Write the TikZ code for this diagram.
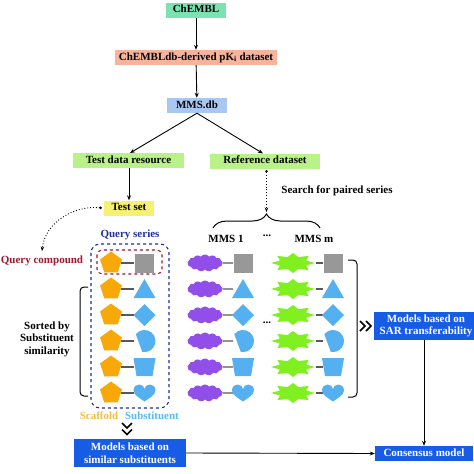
\documentclass[tikz,border=0pt]{standalone}
\usepackage{fontspec}
\setmainfont{Liberation Serif}
\usetikzlibrary{arrows.meta,shapes.geometric,shapes.symbols,decorations.pathreplacing}
\definecolor{cmint}{RGB}{125,226,178}
\definecolor{csalmon}{RGB}{246,180,156}
\definecolor{clblue}{RGB}{168,200,242}
\definecolor{clgreen}{RGB}{184,242,136}
\definecolor{cyellow}{RGB}{248,240,112}
\definecolor{cbbox}{RGB}{22,92,228}
\definecolor{corange}{RGB}{248,168,8}
\definecolor{csub}{RGB}{84,176,240}
\definecolor{cgray}{RGB}{152,152,152}
\definecolor{cpurple}{RGB}{146,78,232}
\definecolor{cstar}{RGB}{128,240,32}
\definecolor{cdred}{RGB}{160,24,48}
\definecolor{cnavy}{RGB}{32,48,150}
\definecolor{cscaf}{RGB}{240,192,64}
\definecolor{csubt}{RGB}{90,186,240}
\tikzset{
  lbl/.style={font=\bfseries\fontsize{11}{12.5}\selectfont, inner sep=0pt},
  flowbox/.style={lbl, minimum height=15pt, text height=8pt, text depth=2.5pt},
  bluebox/.style={lbl, fill=cbbox, text=white, align=center, minimum height=28pt},
  arr/.style={-{Stealth[length=5pt,width=4pt]}, line width=0.9pt},
  scaf/.style={regular polygon, regular polygon sides=5, minimum size=23pt, inner sep=0pt, fill=corange},
  cloudn/.style={cloud, cloud puffs=13, cloud puff arc=110, aspect=2.2, minimum width=35pt, minimum height=17pt, inner sep=0pt, fill=cpurple},
  starn/.style={star, star points=8, star point ratio=1.55, minimum size=20pt, inner sep=0pt, fill=cstar, xscale=2.2, transform shape},
  link/.style={draw=black!65, line width=1.1pt},
  brk/.style={line width=1pt, rounded corners=4pt},
}
\newcommand{\subshape}[3]{%
  \begin{scope}[shift={(#1,#2)}]
  \ifcase#3\relax
    \fill[cgray] (-9.5,-9.5) rectangle (9.5,9.5);
  \or
    \fill[csub] (-11,9) -- (11,9) -- (0,-10) -- cycle;
  \or
    \fill[csub] (0,-11) -- (11,0) -- (0,11) -- (-11,0) -- cycle;
  \or
    \fill[csub] (218:11) arc[start angle=218, end angle=462, radius=11] -- cycle;
  \or
    \fill[csub] (-11,-9) -- (11,-9) -- (8,9) -- (-8,9) -- cycle;
  \or
    \fill[csub] (0,8.5) .. controls (-4,5.5) and (-11,2) .. (-11,-2.5) .. controls (-11,-6.5) and (-8,-8.5) .. (-5.5,-8.5) .. controls (-2.5,-8.5) and (0,-6.5) .. (0,-4) .. controls (0,-6.5) and (2.5,-8.5) .. (5.5,-8.5) .. controls (8,-8.5) and (11,-6.5) .. (11,-2.5) .. controls (11,2) and (4,5.5) .. (0,8.5) -- cycle;
  \fi
  \end{scope}}
\begin{document}
\begin{tikzpicture}[x=1pt,y=-1pt]
\useasboundingbox[fill=white] (0,0) rectangle (474,474);

% top flow
\node[flowbox, fill=cmint, minimum width=60pt] (chembl) at (196,10) {ChEMBL};
\node[flowbox, fill=csalmon, minimum width=162pt] (pki) at (196,57.5) {ChEMBLdb-derived pK\textsubscript{i} dataset};
\node[flowbox, fill=clblue, minimum width=60pt] (mms) at (197,105.5) {MMS.db};
\node[flowbox, fill=clgreen, minimum width=111pt] (tdr) at (128.5,160.5) {Test data resource};
\node[flowbox, fill=clgreen, minimum width=110pt] (ref) at (265,161) {Reference dataset};
\node[flowbox, fill=cyellow, minimum width=50pt] (tset) at (129,208) {Test set};

\draw[arr] (chembl) -- (pki);
\draw[arr] (pki) -- (mms);
\coordinate (tdrin) at (130,153);
\coordinate (refin) at (263,153.5);
\draw[arr] (mms.south) -- (tdrin);
\draw[arr] (mms.south) -- (refin);
\draw[arr] (tdr.south -| tset.north) -- (tset.north);

% query compound
\node[lbl, text=cdred] (qc) at (42,261) {Query compound};
\coordinate (qcend) at (42,251);
\draw[line width=0.9pt, dotted, {Circle[length=2.5pt]}-{Stealth[length=4.5pt,width=3.5pt]}]
  (tset.west) ++(-2,0) .. controls (75,205) and (45,222) .. (qcend);

% query series
\node[lbl, text=cnavy] (qs) at (130,235) {Query series};
\draw[cnavy, dashed, line width=1.1pt, rounded corners=9pt] (91,244) rectangle (169,408);
\draw[cdred, dashed, line width=1.1pt, rounded corners=5pt] (97,250) rectangle (162,274);

% rows
\foreach \y [count=\i from 0] in {263,289,315,341,367,393} {
  \node[scaf] (p\i) at (111,\y) {};
  \coordinate (qa\i) at (134,\y);
  \draw[link] (p\i.east) -- (qa\i);
  \subshape{144.5}{\y}{\i}
  \node[cloudn] (c\i) at (205,\y) {};
  \coordinate (ca\i) at (233,\y);
  \draw[link] (c\i.east) -- (ca\i);
  \subshape{243}{\y}{\i}
  \node[starn] (s\i) at (293,\y) {};
  \coordinate (sa\i) at (323,\y);
  \draw[link] (s\i.east) -- (sa\i);
  \subshape{333}{\y}{\i}
}

% MMS labels and brace
\node[lbl] (mms1) at (226,239) {MMS 1};
\node[lbl] (dots1) at (267,236) {...};
\node[lbl] (mmsm) at (314,239) {MMS m};
\node[lbl] (dots2) at (267,323) {...};
\draw[line width=1pt, decorate, decoration={brace, amplitude=14pt}] (213,228) -- (320,228);
\coordinate (btip) at (266.5,212);
\coordinate (rtop) at (266.5,170);
\draw[line width=0.9pt, dotted, {Circle[length=2.5pt]}-{Stealth[length=4.5pt,width=3.5pt]}] (rtop) -- (btip);
\node[lbl] (search) at (337,191) {Search for paired series};

% brackets
\draw[brk] (88,287) -- (80,287) -- (80,396) -- (88,396);
\draw[brk] (348,260) -- (357,260) -- (357,397) -- (348,397);
\node[lbl, align=center] (sorted) at (47,339) {Sorted by\\Substituent\\similarity};

\node[lbl, text=cscaf] (scl) at (99,416) {Scaffold};
\node[lbl, text=csubt] (sul) at (152,416) {Substituent};

% chevrons
\draw[line width=1.5pt] (122,423) -- (127,428) -- (132,423);
\draw[line width=1.5pt] (122,429.5) -- (127,434.5) -- (132,429.5);
\draw[line width=1.5pt] (360,321) -- (365,326) -- (360,331);
\draw[line width=1.5pt] (366,321) -- (371,326) -- (366,331);

% blue boxes
\node[bluebox, minimum width=112pt] (sim) at (130,453) {Models based on\\similar substituents};
\node[bluebox, minimum width=104pt] (sar) at (426,326) {Models based on\\SAR transferability};
\node[flowbox, fill=cbbox, text=white, minimum width=98pt] (cons) at (424,453.5) {Consensus model};
\draw[arr] (sar.south -| cons.north) -- (cons.north);
\draw[arr] (sim.east) -- (cons.west);
\end{tikzpicture}
\end{document}
